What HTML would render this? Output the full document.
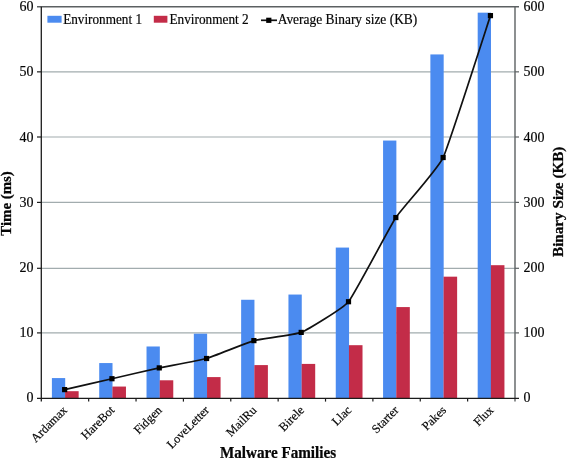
<!DOCTYPE html>
<html><head><meta charset="utf-8"><title>Chart</title>
<style>html,body{margin:0;padding:0;background:#fff}</style></head>
<body>
<svg width="568" height="458" viewBox="0 0 568 458" style="display:block">
<rect width="568" height="458" fill="#fff"/>
<line x1="41.3" x2="515.0" y1="332.90" y2="332.90" stroke="#a2acae" stroke-width="1.2"/>
<line x1="41.3" x2="515.0" y1="268.30" y2="268.30" stroke="#a2acae" stroke-width="1.2"/>
<line x1="41.3" x2="515.0" y1="202.40" y2="202.40" stroke="#a2acae" stroke-width="1.2"/>
<line x1="41.3" x2="515.0" y1="137.00" y2="137.00" stroke="#a2acae" stroke-width="1.2"/>
<line x1="41.3" x2="515.0" y1="71.85" y2="71.85" stroke="#a2acae" stroke-width="1.2"/>
<line x1="37.0" x2="519.0" y1="6.8" y2="6.8" stroke="#5c6062" stroke-width="1.4"/>
<rect x="51.90" y="378.07" width="13.3" height="20.23" fill="#4b8bf0"/>
<rect x="65.10" y="391.19" width="13.55" height="7.11" fill="#c32c48"/>
<rect x="99.21" y="363.06" width="13.3" height="35.24" fill="#4b8bf0"/>
<rect x="112.41" y="386.56" width="13.55" height="11.75" fill="#c32c48"/>
<rect x="146.52" y="346.49" width="13.3" height="51.81" fill="#4b8bf0"/>
<rect x="159.72" y="380.29" width="13.55" height="18.01" fill="#c32c48"/>
<rect x="193.83" y="333.70" width="13.3" height="64.60" fill="#4b8bf0"/>
<rect x="207.03" y="377.09" width="13.55" height="21.21" fill="#c32c48"/>
<rect x="241.14" y="299.77" width="13.3" height="98.53" fill="#4b8bf0"/>
<rect x="254.34" y="365.09" width="13.55" height="33.21" fill="#c32c48"/>
<rect x="288.45" y="294.55" width="13.3" height="103.75" fill="#4b8bf0"/>
<rect x="301.65" y="363.91" width="13.55" height="34.39" fill="#c32c48"/>
<rect x="335.76" y="247.57" width="13.3" height="150.73" fill="#4b8bf0"/>
<rect x="348.96" y="345.19" width="13.55" height="53.11" fill="#c32c48"/>
<rect x="383.07" y="140.56" width="13.3" height="257.74" fill="#4b8bf0"/>
<rect x="396.27" y="307.08" width="13.55" height="91.22" fill="#c32c48"/>
<rect x="430.38" y="54.43" width="13.3" height="343.87" fill="#4b8bf0"/>
<rect x="443.58" y="276.67" width="13.55" height="121.63" fill="#c32c48"/>
<rect x="477.69" y="12.67" width="13.3" height="385.63" fill="#4b8bf0"/>
<rect x="490.89" y="265.19" width="13.55" height="133.11" fill="#c32c48"/>
<line x1="515.0" x2="515.0" y1="6.8" y2="401.6" stroke="#5c6062" stroke-width="1.4"/>
<line x1="41.3" x2="41.3" y1="6.8" y2="401.6" stroke="#1c1c1c" stroke-width="1.3"/>
<line x1="37.0" x2="519.0" y1="398.3" y2="398.3" stroke="#1c1c1c" stroke-width="1.3"/>
<line x1="37.0" x2="41.3" y1="332.90" y2="332.90" stroke="#1c1c1c" stroke-width="1.2"/>
<line x1="515.0" x2="519.0" y1="332.90" y2="332.90" stroke="#5c6062" stroke-width="1.2"/>
<line x1="37.0" x2="41.3" y1="268.30" y2="268.30" stroke="#1c1c1c" stroke-width="1.2"/>
<line x1="515.0" x2="519.0" y1="268.30" y2="268.30" stroke="#5c6062" stroke-width="1.2"/>
<line x1="37.0" x2="41.3" y1="202.40" y2="202.40" stroke="#1c1c1c" stroke-width="1.2"/>
<line x1="515.0" x2="519.0" y1="202.40" y2="202.40" stroke="#5c6062" stroke-width="1.2"/>
<line x1="37.0" x2="41.3" y1="137.00" y2="137.00" stroke="#1c1c1c" stroke-width="1.2"/>
<line x1="515.0" x2="519.0" y1="137.00" y2="137.00" stroke="#5c6062" stroke-width="1.2"/>
<line x1="37.0" x2="41.3" y1="71.85" y2="71.85" stroke="#1c1c1c" stroke-width="1.2"/>
<line x1="515.0" x2="519.0" y1="71.85" y2="71.85" stroke="#5c6062" stroke-width="1.2"/>
<line x1="88.67" x2="88.67" y1="398.3" y2="401.6" stroke="#1c1c1c" stroke-width="1.2"/>
<line x1="136.04" x2="136.04" y1="398.3" y2="401.6" stroke="#1c1c1c" stroke-width="1.2"/>
<line x1="183.41" x2="183.41" y1="398.3" y2="401.6" stroke="#1c1c1c" stroke-width="1.2"/>
<line x1="230.78" x2="230.78" y1="398.3" y2="401.6" stroke="#1c1c1c" stroke-width="1.2"/>
<line x1="278.15" x2="278.15" y1="398.3" y2="401.6" stroke="#1c1c1c" stroke-width="1.2"/>
<line x1="325.52" x2="325.52" y1="398.3" y2="401.6" stroke="#1c1c1c" stroke-width="1.2"/>
<line x1="372.89" x2="372.89" y1="398.3" y2="401.6" stroke="#1c1c1c" stroke-width="1.2"/>
<line x1="420.26" x2="420.26" y1="398.3" y2="401.6" stroke="#1c1c1c" stroke-width="1.2"/>
<line x1="467.63" x2="467.63" y1="398.3" y2="401.6" stroke="#1c1c1c" stroke-width="1.2"/>
<path d="M64.65,389.62 C67.49,388.97 106.28,380.03 111.96,378.73 C117.64,377.42 153.59,369.11 159.27,367.89 C164.95,366.68 200.90,360.13 206.58,358.50 C212.26,356.86 248.21,342.19 253.89,340.62 C259.57,339.05 295.52,334.73 301.20,332.40 C306.88,330.06 342.83,308.62 348.51,301.73 C354.19,294.84 390.14,226.21 395.82,217.56 C401.50,208.91 437.45,169.64 443.13,157.53 C448.81,145.41 487.60,24.12 490.44,15.61" fill="none" stroke="#111" stroke-width="1.7" stroke-linejoin="round"/>
<rect x="62.05" y="387.02" width="5.2" height="5.2" fill="#000"/>
<rect x="109.36" y="376.12" width="5.2" height="5.2" fill="#000"/>
<rect x="156.67" y="365.29" width="5.2" height="5.2" fill="#000"/>
<rect x="203.98" y="355.90" width="5.2" height="5.2" fill="#000"/>
<rect x="251.29" y="338.02" width="5.2" height="5.2" fill="#000"/>
<rect x="298.60" y="329.80" width="5.2" height="5.2" fill="#000"/>
<rect x="345.91" y="299.13" width="5.2" height="5.2" fill="#000"/>
<rect x="393.22" y="214.96" width="5.2" height="5.2" fill="#000"/>
<rect x="440.53" y="154.93" width="5.2" height="5.2" fill="#000"/>
<rect x="487.84" y="13.01" width="5.2" height="5.2" fill="#000"/>
<g font-family="Liberation Serif, serif" font-size="13.33" fill="#050505" stroke="#050505" stroke-width="0.18">
<text font-size="14" x="33.5" y="402.15" text-anchor="end">0</text>
<text font-size="14" x="523.6" y="402.15">0</text>
<text font-size="14" x="33.5" y="337.00" text-anchor="end">10</text>
<text font-size="14" x="523.6" y="337.00">100</text>
<text font-size="14" x="33.5" y="271.90" text-anchor="end">20</text>
<text font-size="14" x="523.6" y="271.90">200</text>
<text font-size="14" x="33.5" y="206.87" text-anchor="end">30</text>
<text font-size="14" x="523.6" y="206.87">300</text>
<text font-size="14" x="33.5" y="141.63" text-anchor="end">40</text>
<text font-size="14" x="523.6" y="141.63">400</text>
<text font-size="14" x="33.5" y="76.40" text-anchor="end">50</text>
<text font-size="14" x="523.6" y="76.40">500</text>
<text font-size="14" x="33.5" y="10.85" text-anchor="end">60</text>
<text font-size="14" x="523.6" y="10.85">600</text>
<text font-size="12.2" text-anchor="end" transform="translate(67.89,410.90) rotate(-45)">Ardamax</text>
<text font-size="12.2" text-anchor="end" transform="translate(115.25,410.90) rotate(-45)">HareBot</text>
<text font-size="12.2" text-anchor="end" transform="translate(162.62,410.90) rotate(-45)">Fidgen</text>
<text font-size="12.2" text-anchor="end" transform="translate(209.99,410.90) rotate(-45)">LoveLetter</text>
<text font-size="12.2" text-anchor="end" transform="translate(257.36,410.90) rotate(-45)">MailRu</text>
<text font-size="12.2" text-anchor="end" transform="translate(304.73,410.90) rotate(-45)">Birele</text>
<text font-size="12.2" text-anchor="end" transform="translate(352.10,410.90) rotate(-45)">Llac</text>
<text font-size="12.2" text-anchor="end" transform="translate(399.47,410.90) rotate(-45)">Starter</text>
<text font-size="12.2" text-anchor="end" transform="translate(446.84,410.90) rotate(-45)">Pakes</text>
<text font-size="12.2" text-anchor="end" transform="translate(494.21,410.90) rotate(-45)">Flux</text>
<rect x="47.4" y="15.8" width="14.2" height="6.9" fill="#4b8bf0" stroke="none"/>
<text font-size="13.8" x="63.2" y="24" textLength="78.8" lengthAdjust="spacingAndGlyphs">Environment 1</text>
<rect x="153.8" y="15.8" width="13.6" height="6.9" fill="#c32c48" stroke="none"/>
<text font-size="13.8" x="169.4" y="24" textLength="79.3" lengthAdjust="spacingAndGlyphs">Environment 2</text>
<line x1="261" x2="277" y1="20.3" y2="20.3" stroke="#111" stroke-width="1.7"/>
<rect x="266.2" y="17.7" width="5.2" height="5.2" fill="#000" stroke="none"/>
<text font-size="13.8" x="277.7" y="24" textLength="139.6" lengthAdjust="spacingAndGlyphs">Average Binary size (KB)</text>
</g>
<g font-family="Liberation Serif, serif" font-size="15" font-weight="bold" fill="#050505" stroke="#050505" stroke-width="0.25">
<text font-size="15.8" x="278" y="457.8" text-anchor="middle" textLength="116.2" lengthAdjust="spacingAndGlyphs">Malware Families</text>
<text font-size="14.8" text-anchor="middle" transform="translate(10.8,203.5) rotate(-90)" textLength="64.5" lengthAdjust="spacingAndGlyphs">Time (ms)</text>
<text font-size="15.6" text-anchor="middle" transform="translate(562.6,201.8) rotate(-90)" textLength="110.4" lengthAdjust="spacingAndGlyphs">Binary Size (KB)</text>
</g>
</svg>
</body></html>
